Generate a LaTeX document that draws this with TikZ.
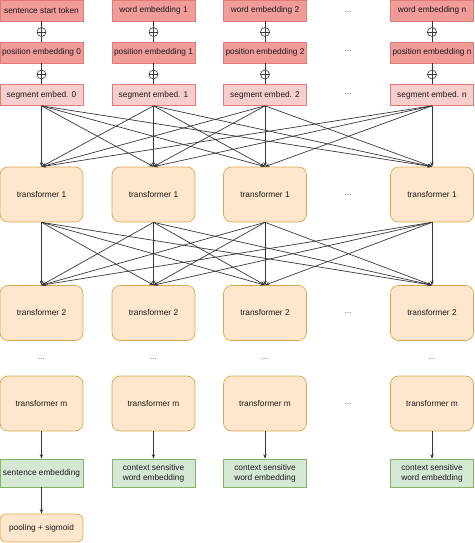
\documentclass[tikz,border=0pt]{standalone}
\usepackage{fontspec}
\setmainfont{Liberation Sans}
\usetikzlibrary{arrows.meta}

\definecolor{embfill}{HTML}{F19C99}
\definecolor{segfill}{HTML}{F8CECC}
\definecolor{embedge}{HTML}{E07B78}
\definecolor{trfill}{HTML}{FFE6CC}
\definecolor{tredge}{HTML}{D9A84E}
\definecolor{outfill}{HTML}{D5E8D4}
\definecolor{outedge}{HTML}{82B366}
\definecolor{linkcol}{HTML}{383838}
\definecolor{textcol}{HTML}{1A1A1A}

\tikzset{
  embbox/.style={draw=embedge, fill=embfill, line width=0.7pt, minimum width=83pt, minimum height=21pt, inner sep=1pt},
  segbox/.style={embbox, fill=segfill},
  trbox/.style={draw=tredge, fill=trfill, line width=0.7pt, rounded corners=8pt, minimum width=83pt, minimum height=55pt},
  outbox/.style={draw=outedge, fill=outfill, line width=0.7pt, minimum width=83pt, minimum height=28pt, align=center, inner sep=1pt},
  poolbox/.style={trbox, rounded corners=6pt, minimum height=28pt},
  oplus/.style={circle, draw=linkcol, line width=0.6pt, minimum size=9pt, inner sep=0pt},
  plain/.style={draw=linkcol, line width=0.7pt},
  link/.style={draw=linkcol, line width=0.7pt, -{Stealth[length=4.5pt,width=3.5pt]}},
  ellip/.style={text=textcol!70}
}

\begin{document}
\begin{tikzpicture}[x=1pt, y=-1pt, font=\fontsize{8.3}{10}\selectfont, text=textcol]
  \useasboundingbox (0,0) rectangle (474,543);

  % embedding columns
  \foreach \c/\x/\t/\n in {1/41.5/sentence start token/0, 2/153.5/word embedding 1/1,
                           3/265/word embedding 2/2, 5/432/word embedding n/n} {
    \node[embbox] (in\c)  at (\x,10.5) {\t};
    \node[embbox] (pos\c) at (\x,52.5) {position embedding \n};
    \node[segbox] (seg\c) at (\x,95)   {segment embed. \n};
    \node[oplus]  (pa\c)  at (\x,32)   {};
    \node[oplus]  (pb\c)  at (\x,74.5) {};
    \draw[plain] (in\c) -- (pa\c) -- (pos\c) -- (pb\c) -- (seg\c);
    \foreach \p in {pa,pb} {
      \draw[plain] (\p\c.west) -- (\p\c.east);
      \draw[plain] (\p\c.north) -- (\p\c.south);
    }
    \node[trbox] (ta\c) at (\x,194.5) {transformer 1};
    \node[trbox] (tb\c) at (\x,313)   {transformer 2};
    \node[ellip] (vd\c) at (\x,359)   {...};
    \node[trbox] (tm\c) at (\x,403.5) {transformer m};
  }

  % outputs
  \node[outbox] (out1) at (41.5,473) {sentence embedding};
  \foreach \c/\x in {2/153.5, 3/265, 5/432}
    \node[outbox] (out\c) at (\x,473) {context sensitive\\word embedding};
  \node[poolbox] (pool) at (41.5,528) {pooling + sigmoid};

  % ellipses between columns
  \node[ellip] (hd1) at (348,12)  {...};
  \node[ellip] (hd2) at (348,51)  {...};
  \node[ellip] (hd3) at (348,94)  {...};
  \node[ellip] (hd4) at (348,195) {...};
  \node[ellip] (hd5) at (348,313) {...};
  \node[ellip] (hd6) at (348,404) {...};

  % full connections
  \foreach \i in {1,2,3,5} {
    \foreach \j in {1,2,3,5} {
      \draw[link] (seg\i.south) -- (ta\j.north);
      \draw[link] (ta\i.south) -- (tb\j.north);
    }
    \draw[link] (tm\i) -- (out\i);
  }
  \draw[link] (out1) -- (pool);
\end{tikzpicture}
\end{document}
